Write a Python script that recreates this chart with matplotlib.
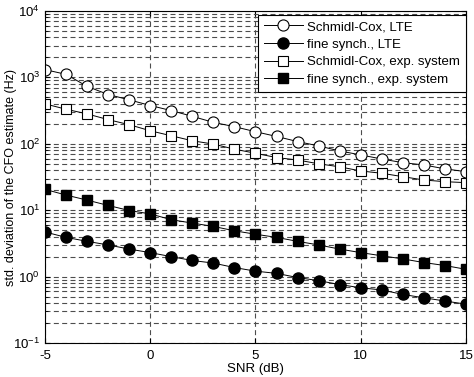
import matplotlib
matplotlib.use("Agg")
import matplotlib.pyplot as plt
from matplotlib.ticker import LogLocator, NullFormatter

plt.rcParams['font.family'] = ['Liberation Sans', 'DejaVu Sans']
plt.rcParams['mathtext.fontset'] = 'custom'
plt.rcParams['mathtext.rm'] = 'Liberation Sans'
plt.rcParams['mathtext.it'] = 'Liberation Sans'
plt.rcParams['axes.unicode_minus'] = False

# datos
snr = list(range(-5, 16))
sc_lte = [1306, 1110, 731, 552, 459, 377, 316, 259, 210, 181, 152,
          129, 108, 93, 78, 68, 59, 52, 48, 42, 38]
fine_lte = [4.7, 3.9, 3.4, 3.0, 2.6, 2.3, 2.0, 1.75, 1.6, 1.37, 1.21,
            1.12, 0.97, 0.87, 0.76, 0.68, 0.63, 0.54, 0.48, 0.43, 0.385]
sc_exp = [399, 331, 282, 231, 194, 157, 132, 111, 99, 83, 72,
          62, 57, 50, 45, 39, 36, 32, 28.5, 26.9, 26]
fine_exp = [20.6, 16.9, 14.2, 11.8, 9.9, 8.8, 7.2, 6.4, 5.7, 4.9, 4.35,
            3.9, 3.4, 3.0, 2.6, 2.3, 2.06, 1.85, 1.63, 1.47, 1.29]
nombres = ["Schmidl-Cox, LTE", "fine synch., LTE",
           "Schmidl-Cox, exp. system", "fine synch., exp. system"]

fig = plt.figure(figsize=(4.74, 3.77), dpi=100)
ax = fig.add_axes([0.095, 0.090, 0.888, 0.881])

ax.plot(snr, sc_lte, color='k', lw=0.7, marker='o', ms=8, mfc='white', mec='k', mew=0.8, label=nombres[0])
ax.plot(snr, fine_lte, color='k', lw=0.7, marker='o', ms=8, mfc='k', mec='k', label=nombres[1])
ax.plot(snr, sc_exp, color='k', lw=0.7, marker='s', ms=6.5, mfc='white', mec='k', mew=0.8, label=nombres[2])
ax.plot(snr, fine_exp, color='k', lw=0.7, marker='s', ms=6.5, mfc='k', mec='k', label=nombres[3])

ax.set_yscale('log')
ax.set_xlim(-5, 15)
ax.set_ylim(1e-1, 1e4)
ax.set_xticks([-5, 0, 5, 10, 15])
ax.yaxis.set_major_locator(LogLocator(base=10, numticks=10))
ax.yaxis.set_minor_locator(LogLocator(base=10, subs=range(2, 10), numticks=20))
ax.yaxis.set_minor_formatter(NullFormatter())

ax.grid(True, which='major', axis='both', color='0.3', ls=(0, (4.5, 3)), lw=0.8)
ax.grid(True, which='minor', axis='y', color='0.3', ls=(0, (4.5, 3)), lw=0.8)
ax.tick_params(which='both', direction='in', top=True, right=True, labelsize=9.5)
ax.tick_params(axis='x', pad=5)
for s in ax.spines.values():
    s.set_linewidth(0.8)

ax.set_xlabel("SNR (dB)", fontsize=9.5, labelpad=1)
ax.set_ylabel("std. deviation of the CFO estimate (Hz)", fontsize=9)
ax.yaxis.set_label_coords(-0.066, 0.5)

leg = ax.legend(loc='upper right', bbox_to_anchor=(1.0, 0.988), fontsize=9.5,
                fancybox=False, framealpha=1, edgecolor='k', handlelength=3.0,
                borderaxespad=0.0, labelspacing=0.4, handletextpad=0.3,
                borderpad=0.45)
leg.get_frame().set_linewidth(0.8)

fig.savefig("out.png", dpi=100)
